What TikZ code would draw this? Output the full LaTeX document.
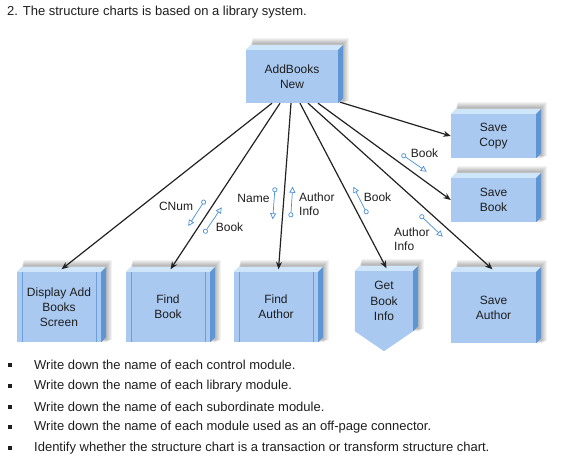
\documentclass[tikz,border=0pt]{standalone}
\usepackage{fontspec}
\setmainfont{Liberation Sans}
\usetikzlibrary{arrows.meta, calc, backgrounds}
\definecolor{boxfront}{HTML}{A9C9F0}
\definecolor{boxtop}{HTML}{CFE5FA}
\definecolor{boxside}{HTML}{5F95D2}
\definecolor{libline}{HTML}{6F9FD8}
\definecolor{coupleblue}{HTML}{4A8ED6}
\definecolor{txt}{HTML}{1E1E1E}
\definecolor{linegray}{HTML}{222222}

\begin{document}
\begin{tikzpicture}[x=1pt, y=-1pt,
    module/.style={fill=boxfront, text=txt, align=center, inner sep=0pt, font=\fontsize{12}{15}\selectfont},
    offpage/.style={text=txt, align=center, inner sep=0pt, font=\fontsize{12}{15.5}\selectfont},
    link/.style={draw=linegray, line width=1.2pt, -{Stealth[length=7.5pt,width=6pt]}},
    couple/.style={draw=coupleblue, line width=0.7pt, {Circle[open,length=5pt,width=5pt]}-{Triangle[open,length=6pt,width=6pt]}},
    lbl/.style={text=txt, align=left, inner sep=0pt, font=\fontsize{12}{14}\selectfont}]

    \useasboundingbox (0,0) rectangle (562,468);

    % Draw the title
    \node[anchor=west, text=txt, inner sep=0pt, font=\fontsize{13}{15}\selectfont] (title) at (7,12) {2. The structure charts is based on a library system.};

    % Draw the modules
    \node[module, minimum width=92pt, minimum height=53pt] (add) at (292,76.5) {AddBooks\\New};
    \node[module, minimum width=85pt, minimum height=44pt] (copy) at (493.5,136) {Save\\Copy};
    \node[module, minimum width=85pt, minimum height=44pt] (sbook) at (493.5,200) {Save\\Book};
    \node[module, minimum width=84pt, minimum height=70pt] (disp) at (59,307) {Display Add\\Books\\Screen};
    \node[module, minimum width=84pt, minimum height=70pt] (fbook) at (168,307) {Find\\Book};
    \node[module, minimum width=84pt, minimum height=70pt] (fauth) at (276,307) {Find\\Author};
    \node[offpage, minimum width=58pt, minimum height=60pt] (gbi) at (384,301) {Get\\Book\\Info};
    \node[module, minimum width=85pt, minimum height=71pt] (sauth) at (493.5,307.5) {Save\\Author};

    % Draw the soft shadows and the off-page shape behind
    \begin{pgfonlayer}{background}
        \foreach \m in {add,copy,sbook,disp,fbook,fauth,gbi,sauth} {
            \foreach \k in {0,...,5} {
                \fill[black, opacity=0.05] ($(\m.north west)+(5+0.4*\k,-7-\k)$) rectangle ($(\m.south east)+(6+\k,-0.5*\k)$);
            }
        }
        \fill[boxfront] (gbi.north west) -- (gbi.north east) -- (gbi.south east) -- ($(gbi.south)+(0,20)$) -- (gbi.south west) -- cycle;
    \end{pgfonlayer}

    % Draw the top and side faces
    \foreach \m in {add,copy,sbook,disp,fbook,fauth,gbi,sauth} {
        \fill[boxtop] (\m.north west) -- ++(5,-5) -- ($(\m.north east)+(5,-5)$) -- (\m.north east) -- cycle;
        \fill[boxside] (\m.north east) -- ++(5,-5) -- ($(\m.south east)+(5,-5)$) -- (\m.south east) -- cycle;
    }

    % Library modules get inner lines
    \foreach \m in {disp,fbook,fauth} {
        \draw[libline, line width=0.6pt] ($(\m.north west)+(5,0)$) -- ($(\m.south west)+(5,0)$);
        \draw[libline, line width=0.6pt] ($(\m.north east)+(-5,0)$) -- ($(\m.south east)+(-5,0)$);
    }

    % Draw the connectors
    \draw[link] ($(add.south)+(-20,0)$) -- ($(disp.north)+(2.5,-2.5)$);
    \draw[link] ($(add.south)+(-12,0)$) -- ($(fbook.north)+(2.5,-2.5)$);
    \draw[link] ($(add.south)+(-1,0)$) -- ($(fauth.north)+(2.5,-2.5)$);
    \draw[link] ($(add.south)+(8,0)$) -- ($(gbi.north)+(2.5,-2.5)$);
    \draw[link] ($(add.south)+(16,0)$) -- ($(sauth.north)+(-1,-2.5)$);
    \draw[link] ($(add.south)+(26,0)$) -- (sbook.west);
    \draw[link] ($(add.south east)+(2,-1)$) -- (copy.west);

    % Draw the data couples
    \draw[couple] (205,200) -- (188.3,226);
    \node[lbl] (cnum) at (176,206) {CNum};
    \draw[couple] (204,233.3) -- (221.7,207.3);
    \node[lbl] (book1) at (229.5,227) {Book};
    \draw[couple] (275,187.3) -- (272.7,219.3);
    \node[lbl] (name) at (253.5,198) {Name};
    \draw[couple] (290.7,217.3) -- (292.7,186.7);
    \node[lbl, anchor=west] (info1) at (299,204) {Author\\Info};
    \draw[couple] (367.3,214) -- (353.3,186.7);
    \node[lbl] (book2) at (377.5,197) {Book};
    \draw[couple] (401.7,154.3) -- (426.7,171.7);
    \node[lbl] (book3) at (424.5,153) {Book};
    \draw[couple] (420,215) -- (442.7,236.7);
    \node[lbl, anchor=west] (info2) at (394,239) {Author\\Info};

    % Draw the questions
    \foreach \q [count=\i] in {Write down the name of each control module.,
        Write down the name of each library module.,
        Write down the name of each subordinate module.,
        Write down the name of each module used as an off-page connector.,
        Identify whether the structure chart is a transaction or transform structure chart.} {
        \pgfmathsetmacro\yy{344.25+20.75*\i}
        \fill[txt] (8,\yy-2) rectangle (12,\yy+2);
        \node[anchor=west, text=txt, inner sep=0pt, font=\fontsize{13}{15}\selectfont] (q\i) at (34,\yy) {\q};
    }
\end{tikzpicture}
\end{document}
